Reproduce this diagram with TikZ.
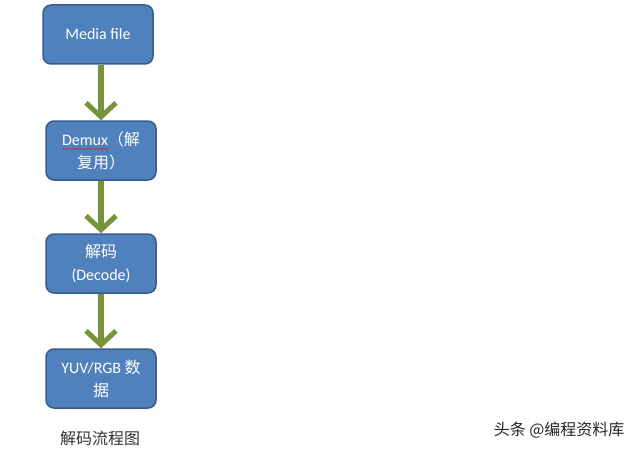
\documentclass[tikz,border=0pt]{standalone}
\usepackage{fontspec}
\setmainfont{Carlito}
\newfontfamily\cjk{Noto Sans CJK SC}
\usepackage{tikz}
\usetikzlibrary{positioning, arrows.meta, decorations.pathmorphing, calc}
\definecolor{boxfill}{RGB}{79,129,189}
\definecolor{boxdraw}{RGB}{56,93,138}
\definecolor{arrowgreen}{RGB}{119,147,60}
\definecolor{spellred}{RGB}{200,40,60}

\begin{document}
\begin{tikzpicture}[x=1pt, y=-1pt,
    box/.style={rectangle, rounded corners=8pt, minimum width=110pt, minimum height=59pt, line width=1.5pt, align=center, fill=boxfill, draw=boxdraw, text=white, font=\fontsize{16}{23}\selectfont},
    arrow/.style={-{Straight Barb[length=14pt, width=30pt, line width=5pt]}, line width=6pt, arrowgreen}
]
    \useasboundingbox (0, 0) rectangle (640, 452);

    % === BOÎTES ===
    \node[box] (media) at (98, 34.5) {Media file};
    \node[box] (demux) at (101, 150.5) {Demux{\cjk（解}\\{\cjk 复用）}};
    \node[box] (decode) at (101, 263.5) {{\cjk 解码}\\(Decode)};
    \node[box] (yuv) at (101, 378.5) {YUV/RGB {\cjk 数}\\{\cjk 据}};

    % soulignement du correcteur
    \draw[spellred, line width=0.6pt, decorate, decoration={snake, amplitude=0.6pt, segment length=3pt}] (63, 149) -- (109, 149);

    % === FLÈCHES ===
    \draw[arrow] (demux.north |- media.south) -- (demux.north);
    \draw[arrow] (demux.south) -- (decode.north);
    \draw[arrow] (decode.south) -- (yuv.north);

    % === LÉGENDES ===
    \node[font=\cjk\fontsize{16}{16}\selectfont, text=black!80] (caption) at (100, 438) {解码流程图};
    \node[font=\cjk\fontsize{16}{16}\selectfont, text=black!85, anchor=east] (mark) at (628, 430) {头条 @编程资料库};
\end{tikzpicture}
\end{document}
